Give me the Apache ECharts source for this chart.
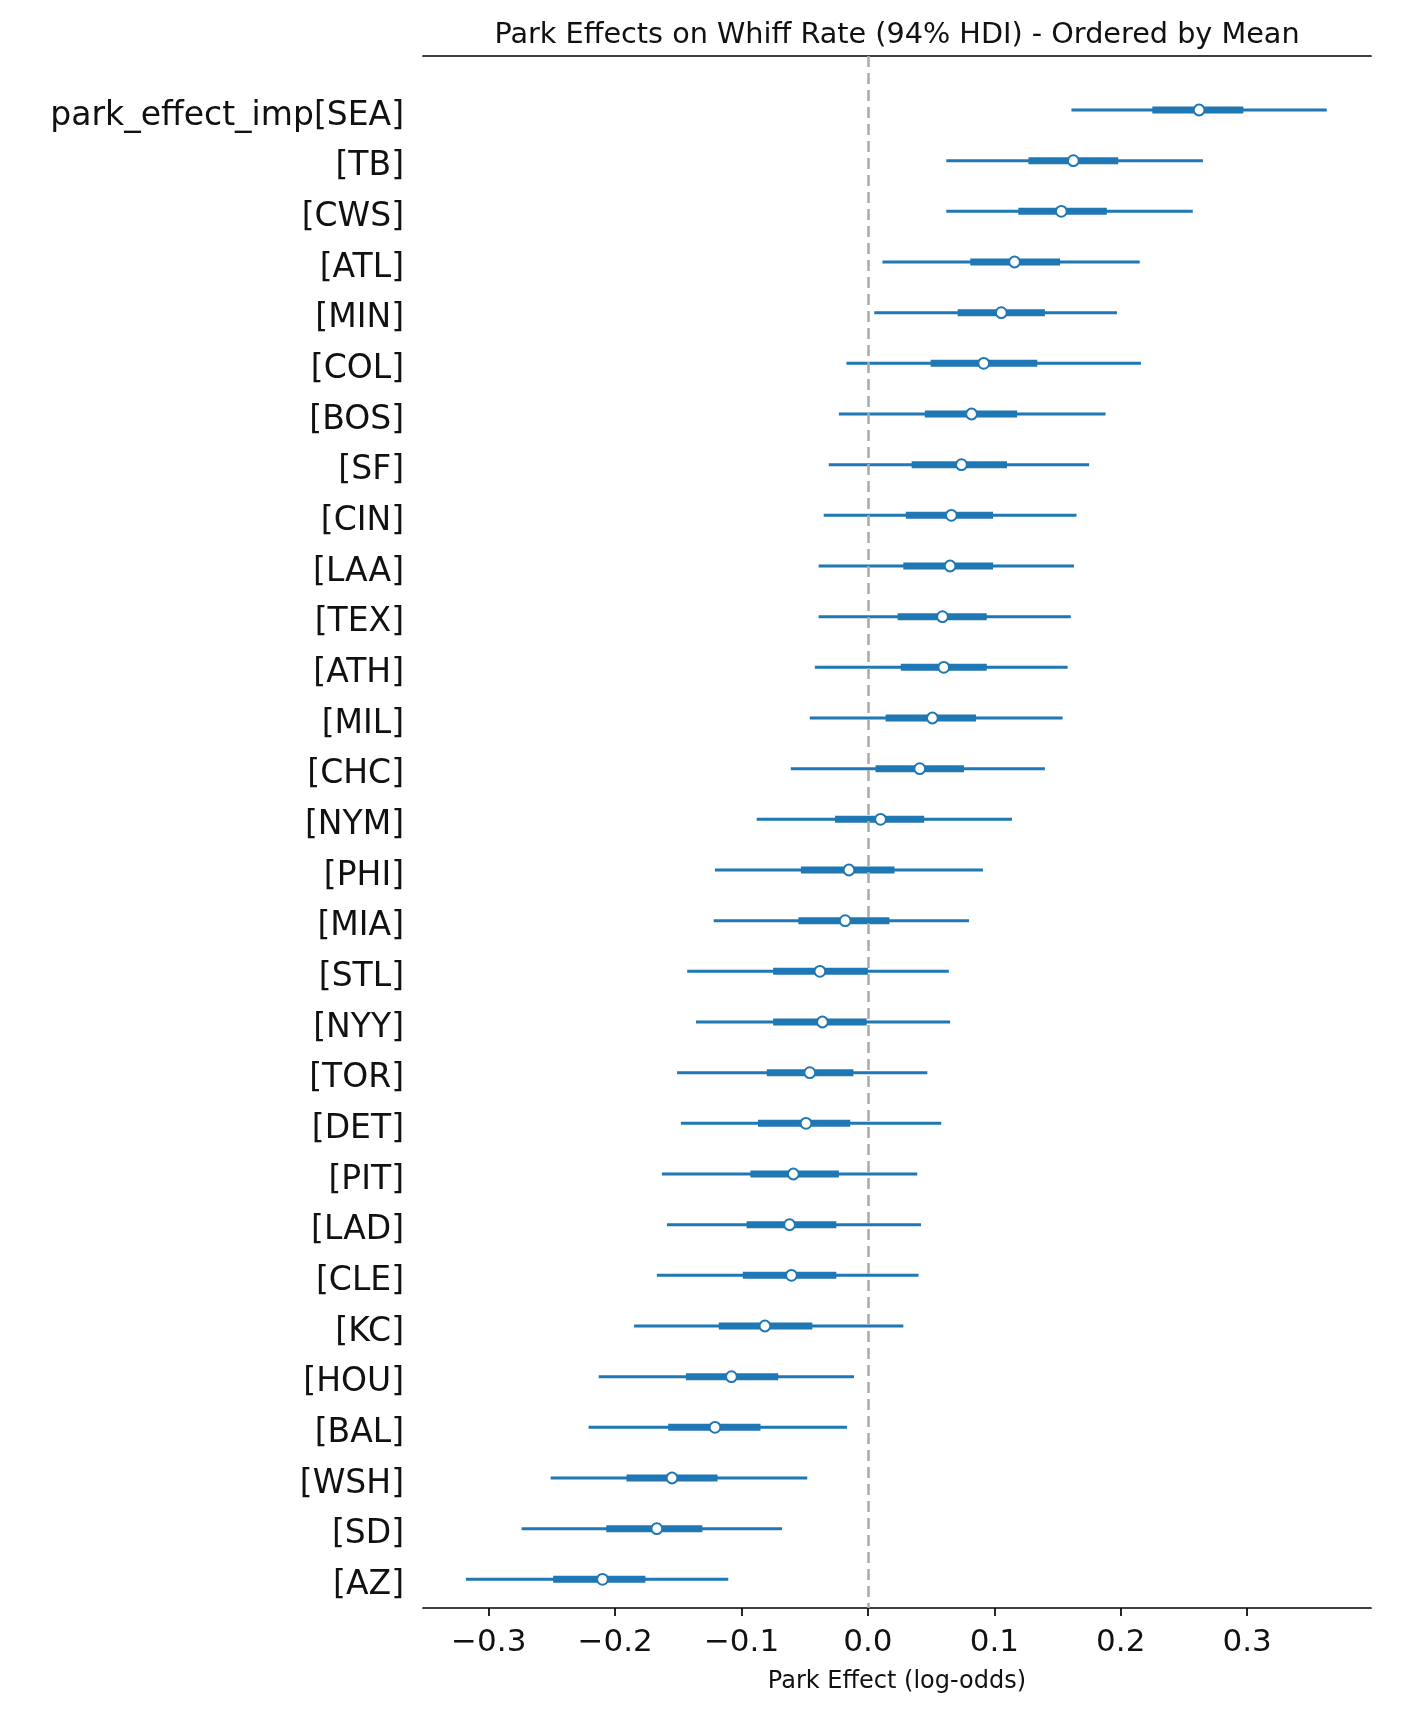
<!DOCTYPE html>
<html>
<head>
<meta charset="utf-8">
<script src="https://cdn.jsdelivr.net/npm/echarts@6/dist/echarts.min.js"></script>
<style>
  html, body { margin: 0; padding: 0; background: #fff; }
  #chart { width: 1418px; height: 1735px; }
</style>
</head>
<body>
<div id="chart"></div>
<script>
// parks, top to bottom (ordered by mean)
const teams = ['SEA', 'TB', 'CWS', 'ATL', 'MIN', 'COL', 'BOS', 'SF', 'CIN', 'LAA',
  'TEX', 'ATH', 'MIL', 'CHC', 'NYM', 'PHI', 'MIA', 'STL', 'NYY', 'TOR',
  'DET', 'PIT', 'LAD', 'CLE', 'KC', 'HOU', 'BAL', 'WSH', 'SD', 'AZ'];
const yLabels = teams.map((t, i) => (i === 0 ? 'park_effect_imp[' + t + ']' : '[' + t + ']'));

const means   = [0.262, 0.1625, 0.153, 0.116, 0.1055, 0.0916, 0.082, 0.074, 0.066, 0.065,
  0.059, 0.060, 0.051, 0.041, 0.010, -0.015, -0.018, -0.038, -0.036, -0.046,
  -0.049, -0.059, -0.062, -0.0605, -0.0815, -0.108, -0.121, -0.155, -0.167, -0.210];
const hdi94Lo = [0.161, 0.062, 0.062, 0.0115, 0.005, -0.017, -0.023, -0.031, -0.035, -0.039,
  -0.039, -0.042, -0.046, -0.061, -0.088, -0.121, -0.122, -0.143, -0.136, -0.151,
  -0.148, -0.163, -0.159, -0.167, -0.185, -0.213, -0.221, -0.251, -0.274, -0.318];
const hdi94Hi = [0.363, 0.265, 0.257, 0.215, 0.197, 0.216, 0.188, 0.175, 0.165, 0.163,
  0.1605, 0.158, 0.154, 0.140, 0.114, 0.091, 0.080, 0.064, 0.065, 0.047,
  0.058, 0.039, 0.042, 0.040, 0.028, -0.011, -0.0165, -0.048, -0.068, -0.1105];
const iqrLo   = [0.225, 0.127, 0.119, 0.081, 0.071, 0.0496, 0.045, 0.0346, 0.030, 0.028,
  0.0235, 0.026, 0.014, 0.006, -0.026, -0.053, -0.055, -0.075, -0.075, -0.080,
  -0.087, -0.093, -0.096, -0.099, -0.118, -0.144, -0.158, -0.191, -0.207, -0.249];
const iqrHi   = [0.297, 0.198, 0.189, 0.152, 0.140, 0.134, 0.118, 0.110, 0.099, 0.099,
  0.094, 0.094, 0.0855, 0.076, 0.0445, 0.021, 0.017, 0.000, -0.001, -0.0115,
  -0.014, -0.023, -0.025, -0.025, -0.044, -0.071, -0.085, -0.119, -0.131, -0.176];
const xTicks = [-0.3, -0.2, -0.1, 0.0, 0.1, 0.2, 0.3];

const blue = '#1f77b4';
const font = 'DejaVu Sans';
const yMin = -1.066, yMax = 29.566;
const labelShift = 0.12; // matplotlib draws tick text a bit below the row centre

const rows = teams.map((t, i) => [i, hdi94Lo[i], iqrLo[i], means[i], iqrHi[i], hdi94Hi[i]]);
const fmtTick = v => (v < 0 ? '\u2212' : '') + Math.abs(v).toFixed(1);

const chart = echarts.init(document.getElementById('chart'));

chart.setOption({
  animation: false,
  backgroundColor: '#fff',
  title: {
    text: 'Park Effects on Whiff Rate (94% HDI) - Ordered by Mean',
    left: 892,
    textAlign: 'center',
    top: 16,
    textStyle: { fontFamily: font, fontSize: 28.7, fontWeight: 'normal', color: '#111' }
  },
  grid: { left: 423, right: 47, top: 56, bottom: 127 },
  xAxis: [
    {
      type: 'value',
      min: -0.352,
      max: 0.398,
      name: 'Park Effect (log-odds)',
      nameLocation: 'middle',
      nameGap: 62,
      nameTextStyle: { fontFamily: font, fontSize: 24, color: '#111' },
      axisLine: { show: true, onZero: false, lineStyle: { color: '#000', width: 1.7 } },
      axisTick: { show: true, length: 8, customValues: xTicks, lineStyle: { color: '#000', width: 1.7 } },
      axisLabel: {
        customValues: xTicks,
        formatter: fmtTick,
        margin: 19,
        fontFamily: font, fontSize: 31, color: '#111'
      },
      splitLine: { show: false }
    },
    {
      type: 'value',
      position: 'top',
      min: -0.352,
      max: 0.398,
      axisLine: { show: true, onZero: false, lineStyle: { color: '#000', width: 1.7 } },
      axisTick: { show: false },
      axisLabel: { show: false },
      splitLine: { show: false }
    }
  ],
  yAxis: [
    {
      type: 'value',
      inverse: true,
      min: yMin,
      max: yMax,
      axisLine: { show: false },
      axisTick: { show: false },
      splitLine: { show: false },
      axisLabel: { show: false }
    },
    {
      // label-only axis, offset slightly so the text sits like matplotlib's
      type: 'value',
      position: 'left',
      inverse: true,
      min: yMin - labelShift,
      max: yMax - labelShift,
      axisLine: { show: false },
      axisTick: { show: false },
      splitLine: { show: false },
      axisLabel: {
        customValues: teams.map((t, i) => i),
        formatter: v => yLabels[v],
        margin: 19,
        fontFamily: font, fontSize: 33, color: '#111'
      }
    }
  ],
  series: [
    {
      type: 'custom',
      data: rows,
      encode: { x: [1, 2, 3, 4, 5], y: 0 },
      z: 2,
      renderItem: (params, api) => {
        const y = api.value(0);
        const lo = api.coord([api.value(1), y]);
        const q1 = api.coord([api.value(2), y]);
        const m = api.coord([api.value(3), y]);
        const q3 = api.coord([api.value(4), y]);
        const hi = api.coord([api.value(5), y]);
        return {
          type: 'group',
          children: [
            { type: 'line', shape: { x1: lo[0], y1: lo[1], x2: hi[0], y2: hi[1] },
              style: { stroke: blue, lineWidth: 3 } },
            { type: 'line', shape: { x1: q1[0], y1: q1[1], x2: q3[0], y2: q3[1] },
              style: { stroke: blue, lineWidth: 7 } },
            { type: 'circle', shape: { cx: m[0], cy: m[1], r: 5.4 },
              style: { fill: '#fff', stroke: blue, lineWidth: 2 } }
          ]
        };
      }
    },
    {
      type: 'line',
      data: [],
      z: 5,
      markLine: {
        silent: true,
        symbol: 'none',
        label: { show: false },
        lineStyle: { color: '#aaaaaa', type: [11, 6], width: 2.5 },
        data: [{ xAxis: 0 }]
      }
    }
  ]
});
</script>
</body>
</html>
